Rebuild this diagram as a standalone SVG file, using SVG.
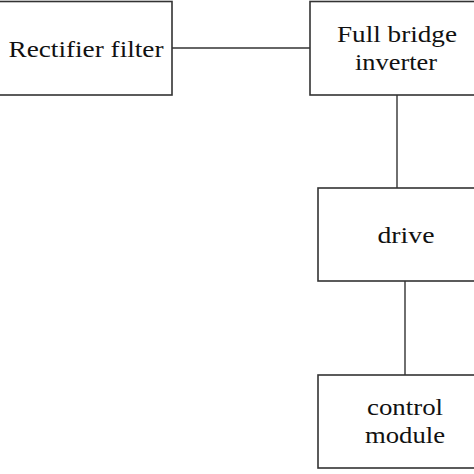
<svg xmlns="http://www.w3.org/2000/svg" width="474" height="474" viewBox="0 0 474 474">
<style>
.box{fill:#fff;stroke:#333;stroke-width:1.6}
.ln{stroke:#333;stroke-width:1.4;fill:none}
.t{font-size:24px;fill:#111;text-anchor:middle}
</style>
<rect width="474" height="474" fill="#fff"/>
<g id="connectors">
<line class="ln" x1="172" y1="48" x2="310" y2="48"/>
<line class="ln" x1="397" y1="95" x2="397" y2="188"/>
<line class="ln" x1="405" y1="281" x2="405" y2="375"/>
</g>
<g font-family="Liberation Serif, serif">
<g id="rectifier">
<rect class="box" x="-3" y="1.5" width="175" height="93.5"/>
<text class="t" x="86" y="57" textLength="155" lengthAdjust="spacingAndGlyphs">Rectifier filter</text>
</g>
<g id="inverter">
<rect class="box" x="310" y="1.5" width="170" height="93.5"/>
<text class="t" x="397" y="42" textLength="120" lengthAdjust="spacingAndGlyphs">Full bridge</text>
<text class="t" x="396" y="70" textLength="82" lengthAdjust="spacingAndGlyphs">inverter</text>
</g>
<g id="drive">
<rect class="box" x="318" y="188" width="162" height="93"/>
<text class="t" x="406" y="243" textLength="57" lengthAdjust="spacingAndGlyphs">drive</text>
</g>
<g id="control">
<rect class="box" x="318" y="375" width="162" height="93"/>
<text class="t" x="405" y="415" textLength="76" lengthAdjust="spacingAndGlyphs">control</text>
<text class="t" x="405" y="443" textLength="80" lengthAdjust="spacingAndGlyphs">module</text>
</g>
</g>
</svg>
